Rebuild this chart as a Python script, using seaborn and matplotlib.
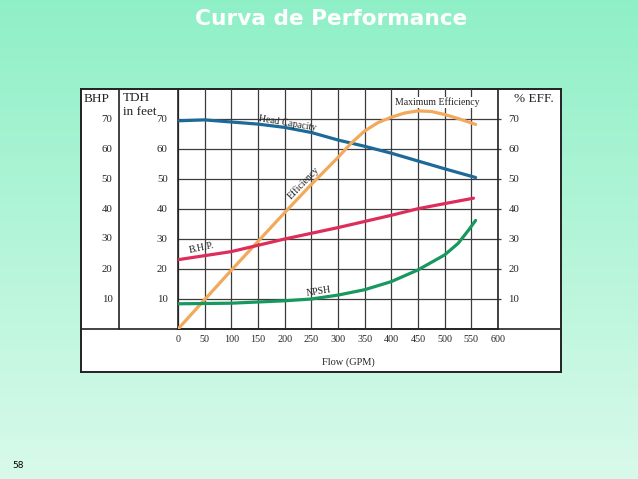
import numpy as np
import matplotlib
matplotlib.use("Agg")
import matplotlib.pyplot as plt
import seaborn as sns

# ------------------------ #
# Data
# ------------------------ #
head_flow = [0, 50, 100, 150, 200, 250, 300, 350, 400, 450, 500, 558]
head_tdh = [69.4, 69.7, 69.0, 68.3, 67.2, 65.5, 63.0, 60.9, 58.6, 56.0, 53.4, 50.5]

eff_flow = [0, 50, 100, 150, 200, 250, 300, 325, 350, 375, 400, 425, 450, 475, 500, 528, 558]
eff_pct = [0, 9.8, 19.6, 29.2, 38.8, 48.2, 57.2, 62.0, 66.0, 68.8, 70.6, 72.0, 72.7, 72.5, 71.5, 70.0, 68.2]

bhp_flow = [0, 100, 200, 300, 400, 450, 500, 554]
bhp_val = [23.1, 25.8, 30.0, 33.8, 37.9, 40.1, 41.8, 43.6]

npsh_flow = [0, 100, 150, 200, 250, 300, 350, 400, 450, 500, 525, 545, 558]
npsh_ft = [8.4, 8.6, 9.0, 9.4, 10.0, 11.3, 13.1, 15.8, 19.7, 24.7, 28.5, 33.0, 36.2]

flow_ticks = list(range(0, 601, 50))
scale_ticks = [10, 20, 30, 40, 50, 60, 70]

# ------------------------ #
# Theme
# ------------------------ #
sns.set_theme(style="white")
plt.rcParams["font.family"] = "serif"
plt.rcParams["font.serif"] = ["Liberation Serif", "DejaVu Serif"]

W, H = 638, 479
fig = plt.figure(figsize=(W / 100, H / 100), dpi=100)

# gradient slide background
bgax = fig.add_axes([0, 0, 1, 1], zorder=-10)
top = np.array([0.56, 0.94, 0.78])
bot = np.array([0.85, 0.98, 0.92])
t = np.linspace(0, 1, 256)[:, None]
grad = (top * (1 - t) + bot * t)[:, None, :]
bgax.imshow(grad, aspect="auto", extent=[0, 1, 0, 1])
bgax.axis("off")

def fx(px):
    return px / W

def fy(py):
    return 1 - py / H

# white chart box
box_l, box_r, box_t, box_b = 81, 561, 89, 372
box = fig.add_axes([fx(box_l), fy(box_b), fx(box_r - box_l), (box_b - box_t) / H], zorder=-5)
box.set_facecolor("white")
box.set_xticks([])
box.set_yticks([])
for s in box.spines.values():
    s.set_color("#222222")
    s.set_linewidth(1.4)
box.set_xlim(0, 1)
box.set_ylim(0, 1)
y_base = (box_b - 329) / (box_b - box_t)
box.axhline(y_base, color="#222222", lw=1.2)
box.axvline((119 - box_l) / (box_r - box_l), ymin=y_base, ymax=1, color="#222222", lw=1.2)

# main plot area
pl, pr, pt, pb = 178, 498, 89, 329
ax = fig.add_axes([fx(pl), fy(pb), fx(pr - pl), (pb - pt) / H])
ax.set_facecolor("none")

sns.lineplot(x=head_flow, y=head_tdh, ax=ax, color="#1d6a98", linewidth=2.3, zorder=3)
sns.lineplot(x=eff_flow, y=eff_pct, ax=ax, color="#f2a95c", linewidth=2.3, zorder=3)
sns.lineplot(x=bhp_flow, y=bhp_val, ax=ax, color="#dd2d5a", linewidth=2.3, zorder=3)
sns.lineplot(x=npsh_flow, y=npsh_ft, ax=ax, color="#17985f", linewidth=2.3, zorder=3)

ax.set_xlim(0, 600)
ax.set_ylim(0, 80)
ax.set_xticks(flow_ticks)
ax.set_xticklabels([str(v) for v in flow_ticks], fontsize=7.3)
ax.set_yticks(scale_ticks)
ax.set_yticklabels([str(v) for v in scale_ticks], fontsize=7.8)
ax.grid(True, color="#3c3c3c", lw=0.9, zorder=1)
ax.tick_params(axis="x", length=0, pad=4)
ax.tick_params(axis="y", left=False, right=True, labelleft=True, labelright=True,
               length=2.5, width=0.9, color="#3c3c3c", pad=5)
for tk in ax.yaxis.get_major_ticks():
    tk.tick1line.set_visible(False)
for s in ax.spines.values():
    s.set_color("#222222")
    s.set_linewidth(1.2)
ax.spines["top"].set_visible(False)

ax.set_xlabel("Flow (GPM)", fontsize=7.5, labelpad=8)
ax.xaxis.set_label_coords((348.6 - pl) / (pr - pl), -0.12)
ax.set_ylabel("")

# BHP scale labels (same scale values)
ytr = ax.get_yaxis_transform()
for v in scale_ticks:
    ax.text((112.5 - pl) / (pr - pl), v, str(v), transform=ytr, ha="right", va="center",
            fontsize=7.8, color="#222222")

# column headers
fig.text(fx(97), fy(99), "BHP", ha="center", va="center", fontsize=9.5, color="#222222")
fig.text(fx(123), fy(98), "TDH", ha="left", va="center", fontsize=9.5, color="#222222")
fig.text(fx(123), fy(112), "in feet", ha="left", va="center", fontsize=9.5, color="#222222")
fig.text(fx(534), fy(99), "% EFF.", ha="center", va="center", fontsize=9.5, color="#222222")

# curve labels
lab_kw = dict(fontsize=7, color="#222222", ha="center", va="center", zorder=4)
ax.text(205, 68.6, "Head Capacity", rotation=-9.5, **lab_kw)
ax.text(235, 48.6, "Efficiency", rotation=46, **lab_kw)
ax.text(44, 27.0, "B.H.P.", rotation=12, **lab_kw)
ax.text(263, 12.4, "NPSH", rotation=9, **lab_kw)
ax.text(486, 75.5, "Maximum Efficiency",
        bbox=dict(facecolor="white", edgecolor="none", pad=0.6), **lab_kw)

# slide title and page number
fig.text(fx(331), fy(19), "Curva de Performance", ha="center", va="center",
         fontsize=15.6, fontweight="bold", color="white", family="DejaVu Sans")
fig.text(fx(18), fy(465), "58", ha="center", va="center", fontsize=6.5,
         color="black", family="DejaVu Sans")

fig.savefig("out.png", dpi=100)
